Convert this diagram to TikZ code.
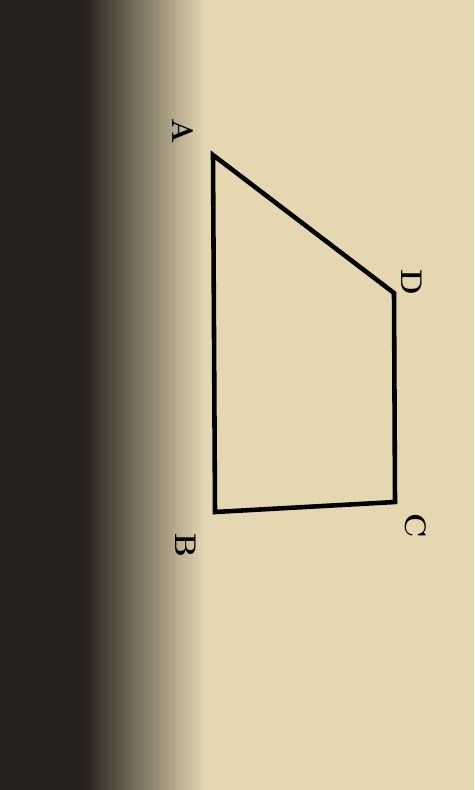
\documentclass[tikz,border=0pt]{standalone}
\begin{document}
\begin{tikzpicture}[x=0.02cm,y=-0.02cm,
    vlabel/.style={font=\bfseries\fontsize{17}{20}\selectfont,rotate=-90,inner sep=0pt}]
          % paper and shadow
          \useasboundingbox (0,0) rectangle (474,790);
          \fill[color={rgb,255:red,228;green,215;blue,178}] (0,0) rectangle (474,790);
          \shade[left color={rgb,255:red,40;green,34;blue,30},right color={rgb,255:red,228;green,215;blue,178}]
              (85,0) rectangle (205,790);
          \fill[color={rgb,255:red,40;green,34;blue,30}] (0,0) rectangle (85,790);

          \coordinate (A) at (213,155);
          \coordinate (D) at (394,293);
          \coordinate (C) at (395,502);
          \coordinate (B) at (215,512);

          \draw(183,131) node[vlabel] (la) {A};
          \draw(412,282) node[vlabel] (ld) {D};
          \draw(416,526) node[vlabel] (lc) {C};
          \draw(186,545) node[vlabel] (lb) {B};

          \draw[line width=2.6pt,line join=miter] (A) -- (D) -- (C) -- (B) -- cycle;

      \end{tikzpicture}
\end{document}
